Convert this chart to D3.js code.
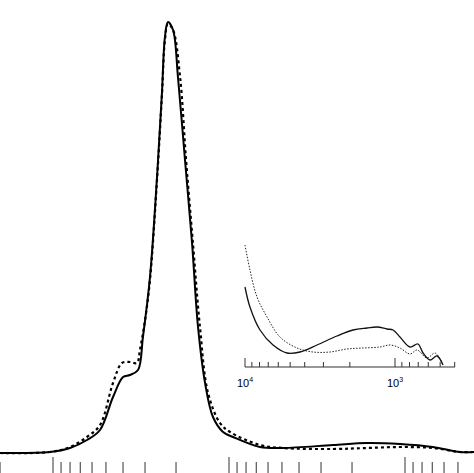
<!DOCTYPE html>
<html><head><meta charset="utf-8">
<script src="https://cdn.jsdelivr.net/npm/d3@7"></script>
<style>body{margin:0;background:#fff}svg{display:block}</style>
</head><body>
<script>
// main trace: x in log10 units (axis runs high -> low), y intensity
const mainSolidX = [4.301,4.017,3.903,3.807,3.733,3.659,3.602,3.563,3.517,3.489,3.449,3.409,3.381,3.364,3.347,3.318,3.290,3.250,3.210,3.176,3.136,3.091,3.034,2.977,2.824,2.693,2.409,2.216,2.028,1.841,1.688,1.608]
const mainSolidY = [0,1,5,13,23,56,76,78,83,116,176,276,360,416,431,423,376,293,210,126,70,36,21,16,6,5,8,10,9,6,1,1]
const mainDashX = [4.301,4.017,3.903,3.807,3.733,3.659,3.608,3.563,3.523,3.506,3.477,3.449,3.409,3.381,3.364,3.347,3.318,3.278,3.244,3.205,3.165,3.119,3.051,2.994,2.824,2.693,2.409,2.216,2.028,1.841,1.688,1.608]
const mainDashY = [0,1,6,16,28,70,90,91,90,103,133,173,273,358,413,429,423,376,293,210,126,60,30,21,8,5,4,5,6,5,1,1]

// inset trace
const insetSolidX = [4,3.967,3.9,3.813,3.72,3.633,3.52,3.387,3.28,3.187,3.12,3.053,3.013,2.967,2.9,2.847,2.813,2.767,2.72,2.68]
const insetSolidY = [78,58,35,20,12,13,20,29,35,37,38,36,35,28,18,21,12,5,9,0]
const insetDashX = [4,3.967,3.92,3.853,3.767,3.653,3.547,3.433,3.32,3.213,3.1,3.033,2.967,2.9,2.853,2.787,2.733,2.68]
const insetDashY = [120,95,68,48,28,17,13,13,16,17,18,20,17,11,15,7,12,0]
const insetLabels = [{e: 4, t: '4'}, {e: 3, t: '3'}]

const W = 474, H = 473
const svg = d3.select('body').append('svg').attr('width', W).attr('height', H)

function logTicks(lo, hi) {
  const out = []
  for (let n = Math.floor(lo) - 1; n <= Math.ceil(hi); n++) {
    for (let k = 1; k <= 9; k++) {
      const e = n + Math.log10(k)
      if (e >= lo - 1e-6 && e <= hi + 1e-6) out.push({ e, major: k === 1 })
    }
  }
  return out
}

// main chart
const x = d3.scaleLinear().domain([4, 2]).range([53, 405])
const y = d3.scaleLinear().domain([0, 431]).range([453, 22])
const line = d3.line().x((d) => x(d[0])).y((d) => y(d[1])).curve(d3.curveCatmullRom)

svg.append('path').datum(d3.zip(mainDashX, mainDashY))
  .attr('d', line).attr('fill', 'none').attr('stroke', '#000')
  .attr('stroke-width', 2.2).attr('stroke-dasharray', '3,3')
svg.append('path').datum(d3.zip(mainSolidX, mainSolidY))
  .attr('d', line).attr('fill', 'none').attr('stroke', '#000').attr('stroke-width', 2)

svg.append('g').selectAll('line')
  .data(logTicks(x.invert(W), x.invert(0)))
  .join('line')
  .attr('x1', (d) => x(d.e)).attr('x2', (d) => x(d.e))
  .attr('y1', (d) => (d.major ? 457 : 462)).attr('y2', H)
  .attr('stroke', '#333').attr('stroke-width', 1)

// inset
const xi = d3.scaleLinear().domain([4, 3]).range([245, 395])
const yi = d3.scaleLinear().domain([0, 120]).range([365, 245])
const lineI = d3.line().x((d) => xi(d[0])).y((d) => yi(d[1])).curve(d3.curveCatmullRom)

svg.append('path').datum(d3.zip(insetDashX, insetDashY))
  .attr('d', lineI).attr('fill', 'none').attr('stroke', '#222')
  .attr('stroke-width', 1).attr('stroke-dasharray', '1.5,1.5')
svg.append('path').datum(d3.zip(insetSolidX, insetSolidY))
  .attr('d', lineI).attr('fill', 'none').attr('stroke', '#111').attr('stroke-width', 1.3)

const gi = svg.append('g')
gi.append('line').attr('x1', 245).attr('x2', 455).attr('y1', 367).attr('y2', 367)
  .attr('stroke', '#333')
gi.selectAll('line.t')
  .data(logTicks(xi.invert(455), 4))
  .join('line').attr('class', 't')
  .attr('x1', (d) => xi(d.e)).attr('x2', (d) => xi(d.e))
  .attr('y1', (d) => (d.major ? 358 : 362)).attr('y2', 367)
  .attr('stroke', '#333')
const lab = gi.selectAll('text').data(insetLabels).join('text')
  .attr('x', (d) => xi(d.e)).attr('y', 387).attr('text-anchor', 'middle')
  .attr('fill', '#000')
  .attr('font-family', 'Liberation Sans, Arial, sans-serif').attr('font-size', 11)
lab.append('tspan').attr('fill', '#000').text('10')
lab.append('tspan').attr('fill', '#000').attr('dy', -5).attr('font-size', 7).text((d) => d.t)
</script>
</body></html>
